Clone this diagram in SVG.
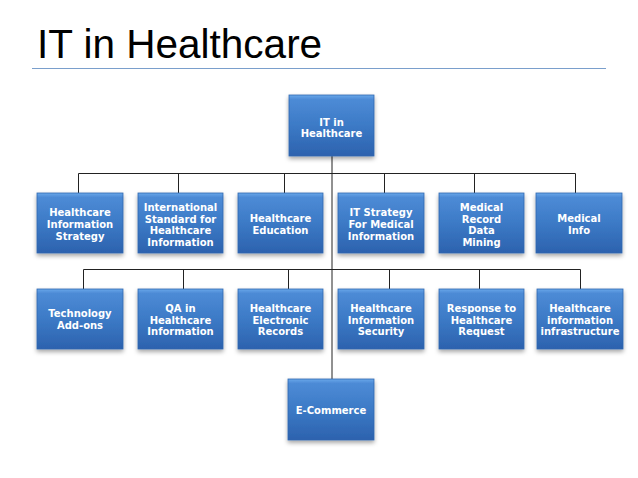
<svg xmlns="http://www.w3.org/2000/svg" width="638" height="478" viewBox="0 0 638 478">
<defs>
<linearGradient id="g" x1="0" y1="0" x2="0" y2="1">
<stop offset="0" stop-color="#6aa8ea"/>
<stop offset="0.07" stop-color="#4d8bd6"/>
<stop offset="0.5" stop-color="#3c7ac6"/>
<stop offset="1" stop-color="#2c62ae"/>
</linearGradient>
<filter id="sh" x="-20%" y="-20%" width="140%" height="150%">
<feDropShadow dx="0" dy="2.5" stdDeviation="2" flood-color="#000" flood-opacity="0.35"/>
</filter>
</defs>
<style>
.b{fill:url(#g);stroke:#3068b0;stroke-width:0.8;filter:url(#sh)}
.t{font-family:"DejaVu Sans",Verdana,sans-serif;font-weight:bold;font-size:10px;fill:#fff;text-anchor:middle}
.c{stroke:#222;stroke-width:1;fill:none}
</style>
<rect width="638" height="478" fill="#fff"/>
<text x="37" y="58" font-family="Liberation Sans,Arial,sans-serif" font-size="40.5" fill="#000">IT in Healthcare</text>
<line x1="32" y1="68.5" x2="606" y2="68.5" stroke="#7a9fcc" stroke-width="1.2"/>
<g id="connectors" class="c">
<path d="M332 156V379"/>
<path d="M78.5 193V173.5H575.5V193"/>
<path d="M178.5 173.5V193M284.5 173.5V193M384.5 173.5V193M474.5 173.5V193"/>
<path d="M83.5 289V269.5H580.5V289"/>
<path d="M183.5 269.5V289M288.5 269.5V289M389.5 269.5V289M479.5 269.5V289"/>
</g>
<g id="n0"><rect class="b" x="289" y="95" width="85" height="61"/><text class="t" x="331.5"><tspan x="331.5" y="125.5">IT in</tspan><tspan x="331.5" y="137">Healthcare</tspan></text></g>
<g id="n1"><rect class="b" x="37" y="193" width="86" height="60"/><text class="t"><tspan x="80" y="216.3">Healthcare</tspan><tspan x="80" y="228">Information</tspan><tspan x="80" y="239.6">Strategy</tspan></text></g>
<g id="n2"><rect class="b" x="138" y="193" width="85" height="60"/><text class="t"><tspan x="180.5" y="211">International</tspan><tspan x="180.5" y="222.5">Standard for</tspan><tspan x="180.5" y="234">Healthcare</tspan><tspan x="180.5" y="245.5">Information</tspan></text></g>
<g id="n3"><rect class="b" x="238" y="193" width="85" height="60"/><text class="t"><tspan x="280.5" y="222">Healthcare</tspan><tspan x="280.5" y="233.5">Education</tspan></text></g>
<g id="n4"><rect class="b" x="338" y="193" width="86" height="60"/><text class="t"><tspan x="381" y="216.3">IT Strategy</tspan><tspan x="381" y="228">For Medical</tspan><tspan x="381" y="239.6">Information</tspan></text></g>
<g id="n5"><rect class="b" x="439" y="193" width="85" height="60"/><text class="t"><tspan x="481.5" y="211">Medical</tspan><tspan x="481.5" y="222.5">Record</tspan><tspan x="481.5" y="234">Data</tspan><tspan x="481.5" y="245.5">Mining</tspan></text></g>
<g id="n6"><rect class="b" x="536" y="193" width="86" height="60"/><text class="t"><tspan x="579" y="222">Medical</tspan><tspan x="579" y="233.5">Info</tspan></text></g>
<g id="n7"><rect class="b" x="37" y="289" width="86" height="60"/><text class="t"><tspan x="80" y="317">Technology</tspan><tspan x="80" y="328.5">Add-ons</tspan></text></g>
<g id="n8"><rect class="b" x="138" y="289" width="85" height="60"/><text class="t"><tspan x="180.5" y="312">QA in</tspan><tspan x="180.5" y="323.5">Healthcare</tspan><tspan x="180.5" y="335">Information</tspan></text></g>
<g id="n9"><rect class="b" x="238" y="289" width="85" height="60"/><text class="t"><tspan x="280.5" y="312">Healthcare</tspan><tspan x="280.5" y="323.5">Electronic</tspan><tspan x="280.5" y="335">Records</tspan></text></g>
<g id="n10"><rect class="b" x="338" y="289" width="86" height="60"/><text class="t"><tspan x="381" y="312">Healthcare</tspan><tspan x="381" y="323.5">Information</tspan><tspan x="381" y="335">Security</tspan></text></g>
<g id="n11"><rect class="b" x="439" y="289" width="85" height="60"/><text class="t"><tspan x="481.5" y="312">Response to</tspan><tspan x="481.5" y="323.5">Healthcare</tspan><tspan x="481.5" y="335">Request</tspan></text></g>
<g id="n12"><rect class="b" x="537" y="289" width="86" height="60"/><text class="t"><tspan x="580" y="312">Healthcare</tspan><tspan x="580" y="323.5">information</tspan><tspan x="580" y="335">infrastructure</tspan></text></g>
<g id="n13"><rect class="b" x="288" y="379" width="86" height="61"/><text class="t" x="331" y="414">E-Commerce</text></g>
</svg>
